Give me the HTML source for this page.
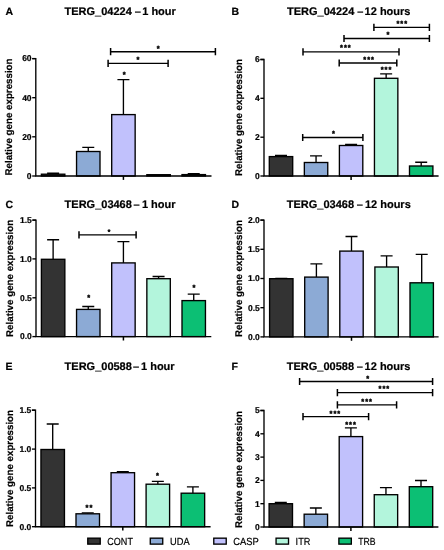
<!DOCTYPE html>
<html><head><meta charset="utf-8"><title>Relative gene expression</title>
<style>html,body{margin:0;padding:0;background:#fff;width:444px;height:550px;overflow:hidden}svg{display:block}text{stroke:#000;stroke-width:0.2px}.st{stroke-width:0.4px}</style>
</head><body>
<svg width="444" height="550" viewBox="0 0 444 550" font-family="'Liberation Sans', Arial, sans-serif" font-weight="bold" text-rendering="geometricPrecision">
<rect width="444" height="550" fill="#fff"/>
<g><text x="5.6" y="15.1" font-size="10.5">A</text><text x="64.5" y="15.1" font-size="11">TERG_04224 <tspan x="134.87">–</tspan><tspan x="142.21">1 hour</tspan></text><text transform="translate(12.4,117.0) rotate(-90)" text-anchor="middle" font-size="9.75">Relative gene expression</text><path d="M53.12 174.2V173.2M47.12 173.2H59.12" stroke="#000" stroke-width="1.35" fill="none"/><rect x="41.4" y="174.2" width="23.45" height="1.8" fill="#333333" stroke="#000" stroke-width="1.35"/><path d="M88.27 151.5V147.4M82.27 147.4H94.27" stroke="#000" stroke-width="1.35" fill="none"/><rect x="76.55" y="151.5" width="23.45" height="24.5" fill="#8CAAD5" stroke="#000" stroke-width="1.35"/><path d="M123.42 114.6V79.6M117.42 79.6H129.42" stroke="#000" stroke-width="1.35" fill="none"/><rect x="111.7" y="114.6" width="23.45" height="61.4" fill="#C1C1FC" stroke="#000" stroke-width="1.35"/><rect x="146.85" y="174.7" width="23.45" height="1.3" fill="#B3F5DC" stroke="#000" stroke-width="1.35"/><path d="M193.72 174.6V173.7M187.72 173.7H199.72" stroke="#000" stroke-width="1.35" fill="none"/><rect x="182" y="174.6" width="23.45" height="1.4" fill="#0CBF74" stroke="#000" stroke-width="1.35"/><path d="M32.2 58.6H35.8V176H211.5" stroke="#000" stroke-width="1.35" fill="none"/><path d="M123.42 176v3.9" stroke="#000" stroke-width="1.5"/><path d="M32.2 176H35.8" stroke="#000" stroke-width="1.35"/><text x="31.6" y="178.8" text-anchor="end" font-size="8.5">0</text><path d="M32.2 136.8H35.8" stroke="#000" stroke-width="1.35"/><text x="31.6" y="139.6" text-anchor="end" font-size="8.5">20</text><path d="M32.2 97.7H35.8" stroke="#000" stroke-width="1.35"/><text x="31.6" y="100.5" text-anchor="end" font-size="8.5">40</text><path d="M32.2 58.6H35.8" stroke="#000" stroke-width="1.35"/><text x="31.6" y="61.4" text-anchor="end" font-size="8.5">60</text><text class="st" x="124.3" y="76.58" text-anchor="middle" font-size="7.5">*</text><path d="M110.6 51.7H215.4" stroke="#000" stroke-width="1.35" fill="none"/><path d="M110.6 48.1v7.2M215.4 48.1v7.2" stroke="#000" stroke-width="1.5" fill="none"/><text class="st" x="158.2" y="50.88" text-anchor="middle" font-size="7.5">*</text><path d="M108.1 63.3H168.1" stroke="#000" stroke-width="1.35" fill="none"/><path d="M108.1 59.7v7.2M168.1 59.7v7.2" stroke="#000" stroke-width="1.5" fill="none"/><text class="st" x="138" y="61.88" text-anchor="middle" font-size="7.5">*</text></g>
<g><text x="231.5" y="15.1" font-size="10.5">B</text><text x="287" y="15.1" font-size="11">TERG_04224 <tspan x="357.37">–</tspan><tspan x="364.61">12 hours</tspan></text><text transform="translate(242.4,117.5) rotate(-90)" text-anchor="middle" font-size="9.75">Relative gene expression</text><path d="M281 156.6V155.5M275 155.5H287" stroke="#000" stroke-width="1.35" fill="none"/><rect x="269.3" y="156.6" width="23.4" height="19.4" fill="#333333" stroke="#000" stroke-width="1.35"/><path d="M316.05 162.5V155.8M310.05 155.8H322.05" stroke="#000" stroke-width="1.35" fill="none"/><rect x="304.35" y="162.5" width="23.4" height="13.5" fill="#8CAAD5" stroke="#000" stroke-width="1.35"/><path d="M351.1 145.5V144.5M345.1 144.5H357.1" stroke="#000" stroke-width="1.35" fill="none"/><rect x="339.4" y="145.5" width="23.4" height="30.5" fill="#C1C1FC" stroke="#000" stroke-width="1.35"/><path d="M386.15 78.3V73.9M380.15 73.9H392.15" stroke="#000" stroke-width="1.35" fill="none"/><rect x="374.45" y="78.3" width="23.4" height="97.7" fill="#B3F5DC" stroke="#000" stroke-width="1.35"/><path d="M421.2 166V162.2M415.2 162.2H427.2" stroke="#000" stroke-width="1.35" fill="none"/><rect x="409.5" y="166" width="23.4" height="10" fill="#0CBF74" stroke="#000" stroke-width="1.35"/><path d="M260.4 59.5H264V176H438.6" stroke="#000" stroke-width="1.35" fill="none"/><path d="M351.1 176v3.9" stroke="#000" stroke-width="1.5"/><path d="M260.4 176H264" stroke="#000" stroke-width="1.35"/><text x="259.8" y="178.8" text-anchor="end" font-size="8.5">0</text><path d="M260.4 137.2H264" stroke="#000" stroke-width="1.35"/><text x="259.8" y="140" text-anchor="end" font-size="8.5">2</text><path d="M260.4 98.3H264" stroke="#000" stroke-width="1.35"/><text x="259.8" y="101.1" text-anchor="end" font-size="8.5">4</text><path d="M260.4 59.5H264" stroke="#000" stroke-width="1.35"/><text x="259.8" y="62.3" text-anchor="end" font-size="8.5">6</text><text class="st" x="382.1 386 389.9" y="72.17" text-anchor="middle" font-size="7.5">***</text><path d="M373.9 27.3H429.4" stroke="#000" stroke-width="1.35" fill="none"/><path d="M373.9 23.7v7.2M429.4 23.7v7.2" stroke="#000" stroke-width="1.5" fill="none"/><text class="st" x="397.9 401.8 405.7" y="25.88" text-anchor="middle" font-size="7.5">***</text><path d="M344 38.5H429.4" stroke="#000" stroke-width="1.35" fill="none"/><path d="M344 34.9v7.2M429.4 34.9v7.2" stroke="#000" stroke-width="1.5" fill="none"/><text class="st" x="388" y="37.27" text-anchor="middle" font-size="7.5">*</text><path d="M303 51.8H399" stroke="#000" stroke-width="1.35" fill="none"/><path d="M303 48.2v7.2M399 48.2v7.2" stroke="#000" stroke-width="1.5" fill="none"/><text class="st" x="341.5 345.4 349.3" y="50.47" text-anchor="middle" font-size="7.5">***</text><path d="M339.2 63H396.8" stroke="#000" stroke-width="1.35" fill="none"/><path d="M339.2 59.4v7.2M396.8 59.4v7.2" stroke="#000" stroke-width="1.5" fill="none"/><text class="st" x="364.7 368.6 372.5" y="61.67" text-anchor="middle" font-size="7.5">***</text><path d="M302.7 137.5H362.9" stroke="#000" stroke-width="1.35" fill="none"/><path d="M302.7 133.9v7.2M362.9 133.9v7.2" stroke="#000" stroke-width="1.5" fill="none"/><text class="st" x="333.4" y="136.28" text-anchor="middle" font-size="7.5">*</text></g>
<g><text x="5.6" y="207.6" font-size="10.5">C</text><text x="64.6" y="207.6" font-size="11">TERG_03468 <tspan x="133.47">–</tspan><tspan x="141.91">1 hour</tspan></text><text transform="translate(12.7,278.4) rotate(-90)" text-anchor="middle" font-size="9.75">Relative gene expression</text><path d="M53.12 259.3V239.7M47.12 239.7H59.12" stroke="#000" stroke-width="1.35" fill="none"/><rect x="41.4" y="259.3" width="23.45" height="77.3" fill="#333333" stroke="#000" stroke-width="1.35"/><path d="M88.27 309.4V306.5M82.27 306.5H94.27" stroke="#000" stroke-width="1.35" fill="none"/><rect x="76.55" y="309.4" width="23.45" height="27.2" fill="#8CAAD5" stroke="#000" stroke-width="1.35"/><path d="M123.42 262.9V241.6M117.42 241.6H129.42" stroke="#000" stroke-width="1.35" fill="none"/><rect x="111.7" y="262.9" width="23.45" height="73.7" fill="#C1C1FC" stroke="#000" stroke-width="1.35"/><path d="M158.57 278.7V276.5M152.57 276.5H164.57" stroke="#000" stroke-width="1.35" fill="none"/><rect x="146.85" y="278.7" width="23.45" height="57.9" fill="#B3F5DC" stroke="#000" stroke-width="1.35"/><path d="M193.72 300.6V294.1M187.72 294.1H199.72" stroke="#000" stroke-width="1.35" fill="none"/><rect x="182" y="300.6" width="23.45" height="36" fill="#0CBF74" stroke="#000" stroke-width="1.35"/><path d="M32.4 220.1H36V336.6H211.3" stroke="#000" stroke-width="1.35" fill="none"/><path d="M123.42 336.6v3.9" stroke="#000" stroke-width="1.5"/><path d="M32.4 336.6H36" stroke="#000" stroke-width="1.35"/><text x="31.8" y="339.4" text-anchor="end" font-size="8.5">0.0</text><path d="M32.4 297.8H36" stroke="#000" stroke-width="1.35"/><text x="31.8" y="300.6" text-anchor="end" font-size="8.5">0.5</text><path d="M32.4 258.9H36" stroke="#000" stroke-width="1.35"/><text x="31.8" y="261.7" text-anchor="end" font-size="8.5">1.0</text><path d="M32.4 220.1H36" stroke="#000" stroke-width="1.35"/><text x="31.8" y="222.9" text-anchor="end" font-size="8.5">1.5</text><text class="st" x="88.7" y="300.48" text-anchor="middle" font-size="7.5">*</text><text class="st" x="193.9" y="289.88" text-anchor="middle" font-size="7.5">*</text><path d="M79 234.8H136.1" stroke="#000" stroke-width="1.35" fill="none"/><path d="M79 231.2v7.2M136.1 231.2v7.2" stroke="#000" stroke-width="1.5" fill="none"/><text class="st" x="109" y="234.28" text-anchor="middle" font-size="6.5">*</text></g>
<g><text x="231.5" y="207.6" font-size="10.5">D</text><text x="286.8" y="207.6" font-size="11">TERG_03468 <tspan x="356.67">–</tspan><tspan x="364.91">12 hours</tspan></text><text transform="translate(242.4,278.5) rotate(-90)" text-anchor="middle" font-size="9.75">Relative gene expression</text><path d="M281.3 278.7V278.3M275.3 278.3H287.3" stroke="#000" stroke-width="1.35" fill="none"/><rect x="269.6" y="278.7" width="23.4" height="58.2" fill="#333333" stroke="#000" stroke-width="1.35"/><path d="M316.4 277.1V263.8M310.4 263.8H322.4" stroke="#000" stroke-width="1.35" fill="none"/><rect x="304.7" y="277.1" width="23.4" height="59.8" fill="#8CAAD5" stroke="#000" stroke-width="1.35"/><path d="M351.5 251.1V236.5M345.5 236.5H357.5" stroke="#000" stroke-width="1.35" fill="none"/><rect x="339.8" y="251.1" width="23.4" height="85.8" fill="#C1C1FC" stroke="#000" stroke-width="1.35"/><path d="M386.6 267V255.8M380.6 255.8H392.6" stroke="#000" stroke-width="1.35" fill="none"/><rect x="374.9" y="267" width="23.4" height="69.9" fill="#B3F5DC" stroke="#000" stroke-width="1.35"/><path d="M421.7 282.8V254.3M415.7 254.3H427.7" stroke="#000" stroke-width="1.35" fill="none"/><rect x="410" y="282.8" width="23.4" height="54.1" fill="#0CBF74" stroke="#000" stroke-width="1.35"/><path d="M260.4 220.1H264V336.9H438.6" stroke="#000" stroke-width="1.35" fill="none"/><path d="M351.5 336.9v3.9" stroke="#000" stroke-width="1.5"/><path d="M260.4 336.9H264" stroke="#000" stroke-width="1.35"/><text x="259.8" y="339.7" text-anchor="end" font-size="8.5">0.0</text><path d="M260.4 307.7H264" stroke="#000" stroke-width="1.35"/><text x="259.8" y="310.5" text-anchor="end" font-size="8.5">0.5</text><path d="M260.4 278.5H264" stroke="#000" stroke-width="1.35"/><text x="259.8" y="281.3" text-anchor="end" font-size="8.5">1.0</text><path d="M260.4 249.3H264" stroke="#000" stroke-width="1.35"/><text x="259.8" y="252.1" text-anchor="end" font-size="8.5">1.5</text><path d="M260.4 220.1H264" stroke="#000" stroke-width="1.35"/><text x="259.8" y="222.9" text-anchor="end" font-size="8.5">2.0</text></g>
<g><text x="5.6" y="370.3" font-size="10.5">E</text><text x="64.6" y="370.3" font-size="11">TERG_00588 <tspan x="133.07">–</tspan><tspan x="141.01">1 hour</tspan></text><text transform="translate(12.7,468.5) rotate(-90)" text-anchor="middle" font-size="9.75">Relative gene expression</text><path d="M52.7 449.5V424M46.7 424H58.7" stroke="#000" stroke-width="1.35" fill="none"/><rect x="40.95" y="449.5" width="23.5" height="77.2" fill="#333333" stroke="#000" stroke-width="1.35"/><path d="M87.75 513.8V512.9M81.75 512.9H93.75" stroke="#000" stroke-width="1.35" fill="none"/><rect x="76" y="513.8" width="23.5" height="12.9" fill="#8CAAD5" stroke="#000" stroke-width="1.35"/><path d="M122.8 472.7V471.6M116.8 471.6H128.8" stroke="#000" stroke-width="1.35" fill="none"/><rect x="111.05" y="472.7" width="23.5" height="54" fill="#C1C1FC" stroke="#000" stroke-width="1.35"/><path d="M157.85 484.2V481.4M151.85 481.4H163.85" stroke="#000" stroke-width="1.35" fill="none"/><rect x="146.1" y="484.2" width="23.5" height="42.5" fill="#B3F5DC" stroke="#000" stroke-width="1.35"/><path d="M192.9 493.2V486.8M186.9 486.8H198.9" stroke="#000" stroke-width="1.35" fill="none"/><rect x="181.15" y="493.2" width="23.5" height="33.5" fill="#0CBF74" stroke="#000" stroke-width="1.35"/><path d="M31.9 410.2H35.5V526.7H210.6" stroke="#000" stroke-width="1.35" fill="none"/><path d="M122.8 526.7v3.9" stroke="#000" stroke-width="1.5"/><path d="M31.9 526.7H35.5" stroke="#000" stroke-width="1.35"/><text x="31.3" y="529.5" text-anchor="end" font-size="8.5">0.0</text><path d="M31.9 487.9H35.5" stroke="#000" stroke-width="1.35"/><text x="31.3" y="490.7" text-anchor="end" font-size="8.5">0.5</text><path d="M31.9 449.1H35.5" stroke="#000" stroke-width="1.35"/><text x="31.3" y="451.9" text-anchor="end" font-size="8.5">1.0</text><path d="M31.9 410.2H35.5" stroke="#000" stroke-width="1.35"/><text x="31.3" y="413" text-anchor="end" font-size="8.5">1.5</text><text class="st" x="87.05 90.95" y="510.07" text-anchor="middle" font-size="7.5">**</text><text class="st" x="157.5" y="477.78" text-anchor="middle" font-size="7.5">*</text></g>
<g><text x="231.5" y="370.3" font-size="10.5">F</text><text x="286.8" y="370.3" font-size="11">TERG_00588 <tspan x="356.87">–</tspan><tspan x="364.61">12 hours</tspan></text><text transform="translate(242.4,469.5) rotate(-90)" text-anchor="middle" font-size="9.75">Relative gene expression</text><path d="M280.8 503.7V502.5M274.8 502.5H286.8" stroke="#000" stroke-width="1.35" fill="none"/><rect x="269.1" y="503.7" width="23.4" height="23.3" fill="#333333" stroke="#000" stroke-width="1.35"/><path d="M315.85 514.2V508M309.85 508H321.85" stroke="#000" stroke-width="1.35" fill="none"/><rect x="304.15" y="514.2" width="23.4" height="12.8" fill="#8CAAD5" stroke="#000" stroke-width="1.35"/><path d="M350.9 436.6V427.9M344.9 427.9H356.9" stroke="#000" stroke-width="1.35" fill="none"/><rect x="339.2" y="436.6" width="23.4" height="90.4" fill="#C1C1FC" stroke="#000" stroke-width="1.35"/><path d="M385.95 494.7V487.6M379.95 487.6H391.95" stroke="#000" stroke-width="1.35" fill="none"/><rect x="374.25" y="494.7" width="23.4" height="32.3" fill="#B3F5DC" stroke="#000" stroke-width="1.35"/><path d="M421 486.7V480.5M415 480.5H427" stroke="#000" stroke-width="1.35" fill="none"/><rect x="409.3" y="486.7" width="23.4" height="40.3" fill="#0CBF74" stroke="#000" stroke-width="1.35"/><path d="M260.4 410.5H264V527H438.4" stroke="#000" stroke-width="1.35" fill="none"/><path d="M350.9 527v3.9" stroke="#000" stroke-width="1.5"/><path d="M260.4 527H264" stroke="#000" stroke-width="1.35"/><text x="259.8" y="529.8" text-anchor="end" font-size="8.5">0</text><path d="M260.4 503.7H264" stroke="#000" stroke-width="1.35"/><text x="259.8" y="506.5" text-anchor="end" font-size="8.5">1</text><path d="M260.4 480.4H264" stroke="#000" stroke-width="1.35"/><text x="259.8" y="483.2" text-anchor="end" font-size="8.5">2</text><path d="M260.4 457.1H264" stroke="#000" stroke-width="1.35"/><text x="259.8" y="459.9" text-anchor="end" font-size="8.5">3</text><path d="M260.4 433.8H264" stroke="#000" stroke-width="1.35"/><text x="259.8" y="436.6" text-anchor="end" font-size="8.5">4</text><path d="M260.4 410.5H264" stroke="#000" stroke-width="1.35"/><text x="259.8" y="413.3" text-anchor="end" font-size="8.5">5</text><text class="st" x="346.6 350.5 354.4" y="427.28" text-anchor="middle" font-size="7.5">***</text><path d="M299.6 381.5H432.6" stroke="#000" stroke-width="1.35" fill="none"/><path d="M299.6 377.9v7.2M432.6 377.9v7.2" stroke="#000" stroke-width="1.5" fill="none"/><text class="st" x="367.6" y="380.68" text-anchor="middle" font-size="7.5">*</text><path d="M337.4 392.6H432.6" stroke="#000" stroke-width="1.35" fill="none"/><path d="M337.4 389v7.2M432.6 389v7.2" stroke="#000" stroke-width="1.5" fill="none"/><text class="st" x="380 383.9 387.8" y="391.48" text-anchor="middle" font-size="7.5">***</text><path d="M337.4 404.8H396.6" stroke="#000" stroke-width="1.35" fill="none"/><path d="M337.4 401.2v7.2M396.6 401.2v7.2" stroke="#000" stroke-width="1.5" fill="none"/><text class="st" x="362.7 366.6 370.5" y="404.18" text-anchor="middle" font-size="7.5">***</text><path d="M303 416.6H368.6" stroke="#000" stroke-width="1.35" fill="none"/><path d="M303 413v7.2M368.6 413v7.2" stroke="#000" stroke-width="1.5" fill="none"/><text class="st" x="331 334.9 338.8" y="415.98" text-anchor="middle" font-size="7.5">***</text></g>
<rect x="87.77" y="538.17" width="12.45" height="5.95" fill="#333333" stroke="#000" stroke-width="1.35"/>
<text x="107.3" y="544.6" font-size="10.3" font-weight="normal" textLength="25.6" lengthAdjust="spacingAndGlyphs">CONT</text>
<rect x="150.28" y="538.17" width="12.45" height="5.95" fill="#8CAAD5" stroke="#000" stroke-width="1.35"/>
<text x="170" y="544.6" font-size="10.3" font-weight="normal" textLength="19.6" lengthAdjust="spacingAndGlyphs">UDA</text>
<rect x="213.78" y="538.17" width="12.45" height="5.95" fill="#C1C1FC" stroke="#000" stroke-width="1.35"/>
<text x="233.2" y="544.6" font-size="10.3" font-weight="normal" textLength="25.6" lengthAdjust="spacingAndGlyphs">CASP</text>
<rect x="276.07" y="538.17" width="12.45" height="5.95" fill="#B3F5DC" stroke="#000" stroke-width="1.35"/>
<text x="295.6" y="544.6" font-size="10.3" font-weight="normal" textLength="14.8" lengthAdjust="spacingAndGlyphs">ITR</text>
<rect x="338.88" y="538.17" width="12.45" height="5.95" fill="#0CBF74" stroke="#000" stroke-width="1.35"/>
<text x="358.2" y="544.6" font-size="10.3" font-weight="normal" textLength="17.4" lengthAdjust="spacingAndGlyphs">TRB</text>
</svg>
</body></html>
